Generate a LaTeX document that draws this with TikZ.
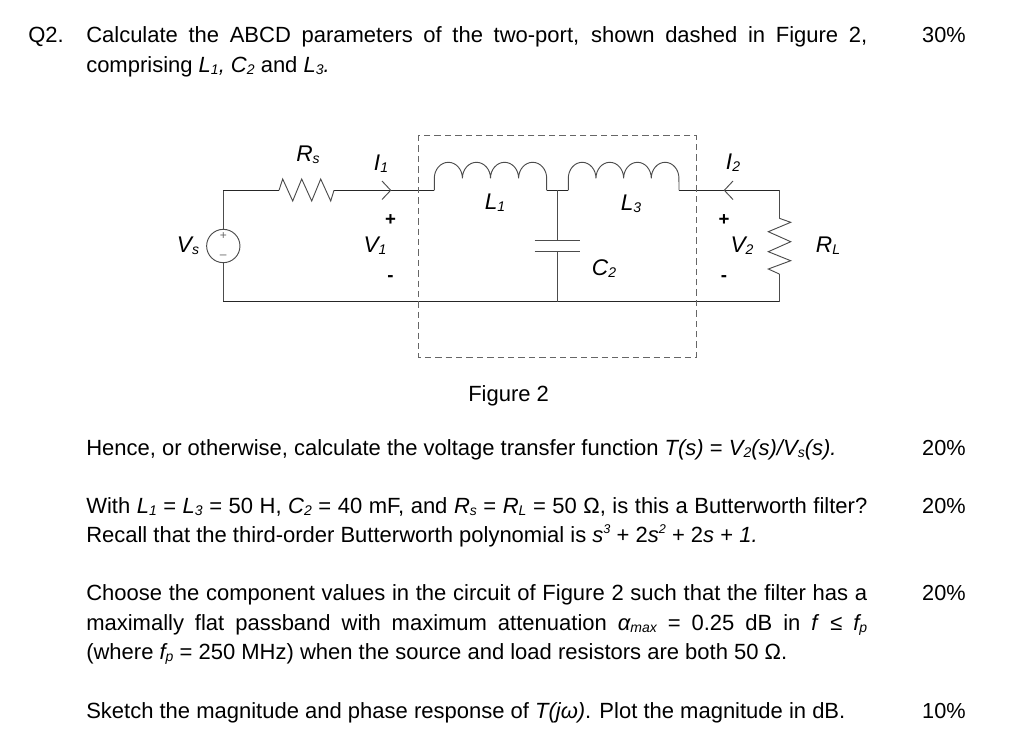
\documentclass[tikz,border=0pt]{standalone}
\usepackage{fontspec}
\setmainfont{Liberation Sans}
\usepackage{tikz}
\usetikzlibrary{positioning}
\newcommand{\lo}[1]{\raisebox{-0.18ex}{\fontsize{10.5}{10.5}\selectfont #1}}
\newcommand{\hi}[1]{\raisebox{0.8ex}{\fontsize{9.5}{9.5}\selectfont #1}}

\begin{document}
\begin{tikzpicture}[
x=0.75pt, y=-0.75pt,
wire/.style = {draw=black!85, line width=0.9pt},
thinwire/.style = {draw=black!70, line width=0.7pt},
dashbox/.style = {draw=black!60, line width=0.6pt, dash pattern=on 4.8pt off 3pt},
para/.style = {anchor=base west, text width=585.75pt, align=justify, inner sep=0pt, font=\fontsize{16.5}{22.2}\selectfont},
plain/.style = {anchor=base west, inner sep=0pt, font=\fontsize{16.5}{22.2}\selectfont},
weight/.style = {anchor=base east, inner sep=0pt, font=\fontsize{16.3}{22.2}\selectfont},
lbl/.style = {inner sep=0pt, font=\fontsize{17}{20}\selectfont\itshape},
sign/.style = {inner sep=0pt, font=\fontsize{14}{16}\selectfont\bfseries},
source/.style = {draw=black!70, line width=0.7pt, circle, minimum size=25pt, inner sep=0pt}]
\useasboundingbox (0,0) rectangle (1024,750);

% text
\node[plain] (q) at (28,42.5) {Q2.};
\node[para] (t1) at (86,42.5) {Calculate the ABCD parameters of the two-port, shown dashed in Figure 2,\linebreak comprising \textit{L\lo{1}, C\lo{2}} and \textit{L\lo{3}.}};
\node[plain] (fig) at (468,401) {Figure 2};
\node[plain] (t2) at (86,455) {Hence, or otherwise, calculate the voltage transfer function \textit{T(s)} = \textit{V\lo{2}(s)/V\lo{s}(s).}};
\node[para] (t3) at (86,513) {With \textit{L\lo{1}} = \textit{L\lo{3}} = 50 H, \textit{C\lo{2}} = 40 mF, and \textit{R\lo{s}} = \textit{R\lo{L}} = 50 Ω, is this a Butterworth filter?\linebreak Recall that the third-order Butterworth polynomial is \textit{s\hi{3}} + 2\textit{s\hi{2}} + 2\textit{s} + \textit{1.}};
\node[para] (t4) at (86,600.5) {Choose the component values in the circuit of Figure 2 such that the filter has a\linebreak maximally flat passband with maximum attenuation \textit{α\lo{max}} = 0.25 dB in \textit{f} ≤ \textit{f\lo{p}}\linebreak (where \textit{f\lo{p}} = 250 MHz) when the source and load resistors are both 50 Ω.};
\node[plain] (t5) at (86,718) {Sketch the magnitude and phase response of \textit{T(jω)}. Plot the magnitude in dB.};

\node[weight] (m1) at (966,42.5) {30\%};
\node[weight] (m2) at (966,455) {20\%};
\node[weight] (m3) at (966,513) {20\%};
\node[weight] (m4) at (966,600.5) {20\%};
\node[weight] (m5) at (966,718) {10\%};

% circuit corners
\node[source] (vs) at (223.3,246) {};
\node (vp) at (223.3,236.5) [inner sep=0pt, text=black!60, font=\fontsize{9}{9}\selectfont] {+};
\node (vm) at (223.3,257) [inner sep=0pt, text=black!60, font=\fontsize{9}{9}\selectfont] {--};
\coordinate (tl) at (223.3,190.3);
\coordinate (bl) at (223.3,301.7);
\coordinate (rsa) at (279,190.3);
\coordinate (rsb) at (334,190.3);
\coordinate (la) at (434.3,190.3);
\coordinate (lb) at (546.7,190.3);
\coordinate (j) at (557,190.3);
\coordinate (lc) at (568.3,190.3);
\coordinate (ld) at (679,190.3);
\coordinate (tr) at (779.3,190.3);
\coordinate (bj) at (557,301.7);
\coordinate (br) at (779.3,301.7);
\coordinate (rla) at (779.3,218.3);
\coordinate (rlb) at (779.3,274);
\coordinate (ca) at (557,240.3);
\coordinate (cb) at (557,251);

% wires
\draw[thinwire] (vs) -- (tl);
\draw[thinwire] (vs) -- (bl);
\draw[wire] (tl) -- (rsa);
\draw[wire] (rsb) -- (la);
\draw[wire] (lb) -- (lc);
\draw[wire] (ld) -- (tr);
\draw[wire] (bl) -- (br);
\draw[thinwire] (j) -- (ca);
\draw[thinwire] (cb) -- (bj);
\draw[thinwire] (tr) -- (rla);
\draw[thinwire] (rlb) -- (br);

% resistors
\draw[thinwire] (rsa) -- ++(3.7,-11.3) -- ++(10,22) -- ++(9,-22) -- ++(10,22) -- ++(9,-22) -- ++(10,22) -- (rsb);
\draw[thinwire] (rla) -- ++(11.4,4) -- ++(-22.4,9.4) -- ++(22.4,10) -- ++(-22.4,10) -- ++(22.4,9) -- ++(-22.4,8.3) -- (rlb);

% coils
\draw[thinwire] (la) -- ++(0,-12) arc[start angle=180, end angle=360, x radius=14.05, y radius=16]
  arc[start angle=180, end angle=360, x radius=14.05, y radius=16]
  arc[start angle=180, end angle=360, x radius=14.05, y radius=16]
  arc[start angle=180, end angle=360, x radius=14.05, y radius=16] -- (lb);
\draw[thinwire] (lc) -- ++(0,-12) arc[start angle=180, end angle=360, x radius=13.83, y radius=16]
  arc[start angle=180, end angle=360, x radius=13.83, y radius=16]
  arc[start angle=180, end angle=360, x radius=13.83, y radius=16]
  arc[start angle=180, end angle=360, x radius=13.83, y radius=16] -- (ld);

% capacitor
\draw[thinwire] (534.7,240.3) -- (579.7,240.3);
\draw[thinwire] (534.7,251) -- (579.7,251);

% current chevrons
\draw[thinwire] (382,181) -- (390.7,190.3) -- (382,199.5);
\draw[thinwire] (733,181) -- (724.3,190.3) -- (733,199.5);

% two-port
\draw[dashbox] (418.3,135) rectangle (696,357.3);

% labels
\node[lbl] (rs) at (308,155) {R\lo{s}};
\node[lbl] (i1) at (381,164) {I\lo{1}};
\node[lbl] (v1) at (375,246) {V\lo{1}};
\node[lbl] (vsl) at (188,245.5) {V\lo{s}};
\node[lbl] (l1) at (495,203) {L\lo{1}};
\node[lbl] (l3) at (631,204) {L\lo{3}};
\node[lbl] (c2) at (604,269) {C\lo{2}};
\node[lbl] (i2) at (733,163) {I\lo{2}};
\node[lbl] (v2) at (742,246) {V\lo{2}};
\node[lbl] (rl) at (828,246) {R\lo{L}};
\node[sign] (p1) at (390.5,220.5) {+};
\node[sign] (n1) at (390.5,279) {-};
\node[sign] (p2) at (724,220.5) {+};
\node[sign] (n2) at (724,279) {-};
\end{tikzpicture}
\end{document}
